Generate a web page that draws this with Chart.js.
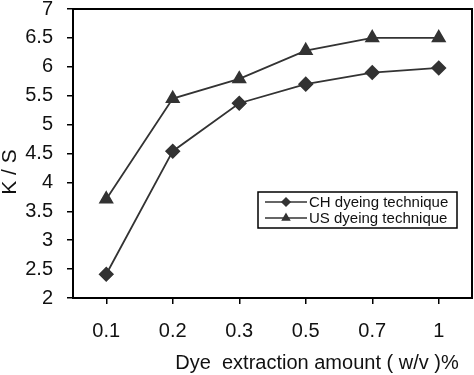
<!DOCTYPE html>
<html>
<head>
<meta charset="utf-8">
<script src="https://cdn.jsdelivr.net/npm/chart.js@4"></script>
<style>
    html, body { margin: 0; padding: 0; background: #fff; }
    #wrap { width: 474px; height: 375px; }
</style>
</head>
<body>
<div id="wrap"><canvas id="ksGrafik" width="474" height="375"></canvas></div>
<script>
// Veriler
const categories = ["0.1", "0.2", "0.3", "0.5", "0.7", "1"];
const chValues = [2.41, 4.54, 5.37, 5.70, 5.90, 5.98];
const usValues = [3.71, 5.45, 5.79, 6.28, 6.50, 6.50];
const seriesLabels = ["CH dyeing technique", "US dyeing technique"];
const xTitle = "Dye  extraction amount ( w/v )%";
const yTitle = "K / S";

const ink = "#333";
const fontFamily = "'Liberation Sans', Arial, sans-serif";

// Eksen dolgusunu sıfırla (grafik alanı sabit kalsın)
function fixScale(size) {
    return (scale) => {
        if (scale.isHorizontal()) scale.height = size;
        else scale.width = size;
        scale.paddingTop = 0;
        scale.paddingBottom = 0;
        scale.paddingLeft = 0;
        scale.paddingRight = 0;
    };
}

// Çerçeve, eksen başlıkları ve lejant
const framePlugin = {
    id: "frame",
    afterDraw(chart) {
        const { ctx, chartArea: a } = chart;
        ctx.save();
        ctx.strokeStyle = "#000";
        ctx.lineWidth = 2;
        ctx.strokeRect(a.left, a.top, a.right - a.left, a.bottom - a.top);

        // Eksen başlıkları
        ctx.fillStyle = "#111";
        ctx.font = `20px ${fontFamily}`;
        ctx.textAlign = "center";
        ctx.textBaseline = "middle";
        ctx.fillText(xTitle, 317, 363);
        ctx.save();
        ctx.translate(10, 172);
        ctx.rotate(-Math.PI / 2);
        ctx.font = `21px ${fontFamily}`;
        ctx.fillText(yTitle, 0, 0);
        ctx.restore();

        // Lejant kutusu
        const box = { x: 258, y: 192, w: 199, h: 36 };
        ctx.lineWidth = 1.5;
        ctx.strokeStyle = "#000";
        ctx.strokeRect(box.x, box.y, box.w, box.h);
        const rows = [202, 218];
        const styles = ["rectRot", "triangle"];
        ctx.font = `15px ${fontFamily}`;
        ctx.textAlign = "left";
        rows.forEach((y, i) => {
            ctx.strokeStyle = ink;
            ctx.lineWidth = 1.5;
            ctx.beginPath();
            ctx.moveTo(265, y);
            ctx.lineTo(307, y);
            ctx.stroke();
            ctx.fillStyle = ink;
            Chart.helpers.drawPoint(ctx, { pointStyle: styles[i], radius: 4, borderWidth: 1 }, 286, y);
            ctx.fillStyle = "#111";
            ctx.fillText(seriesLabels[i], 309, y + 1);
        });
        ctx.restore();
    },
};

new Chart(document.getElementById("ksGrafik").getContext("2d"), {
    type: "line",
    data: {
        labels: categories,
        datasets: [
            {
                label: seriesLabels[0],
                data: chValues,
                borderColor: ink,
                backgroundColor: ink,
                borderWidth: 1.8,
                pointStyle: "rectRot",
                pointRadius: 6.5,
                tension: 0,
            },
            {
                label: seriesLabels[1],
                data: usValues,
                borderColor: ink,
                backgroundColor: ink,
                borderWidth: 1.8,
                pointStyle: "triangle",
                pointRadius: 7,
                tension: 0,
            },
        ],
    },
    options: {
        responsive: false,
        animation: false,
        layout: { autoPadding: false, padding: { top: 9, right: 2, left: 0, bottom: 0 } },
        plugins: {
            legend: { display: false },
            tooltip: { enabled: false },
        },
        scales: {
            x: {
                offset: true,
                afterFit: fixScale(77),
                grid: { drawOnChartArea: false, tickLength: 6, color: "#000", lineWidth: 1.5 },
                border: { color: "#000", width: 2 },
                ticks: { color: "#111", font: { size: 20, family: fontFamily }, padding: 15 },
            },
            y: {
                min: 2,
                max: 7,
                afterFit: fixScale(73),
                grid: { drawOnChartArea: false, tickLength: 6, color: "#000", lineWidth: 1.5 },
                border: { color: "#000", width: 2 },
                ticks: {
                    stepSize: 0.5,
                    color: "#111",
                    font: { size: 20, family: fontFamily },
                    padding: 14,
                    callback: (value) => String(Number(value.toFixed(1))),
                },
            },
        },
    },
    plugins: [framePlugin],
});
</script>
</body>
</html>
